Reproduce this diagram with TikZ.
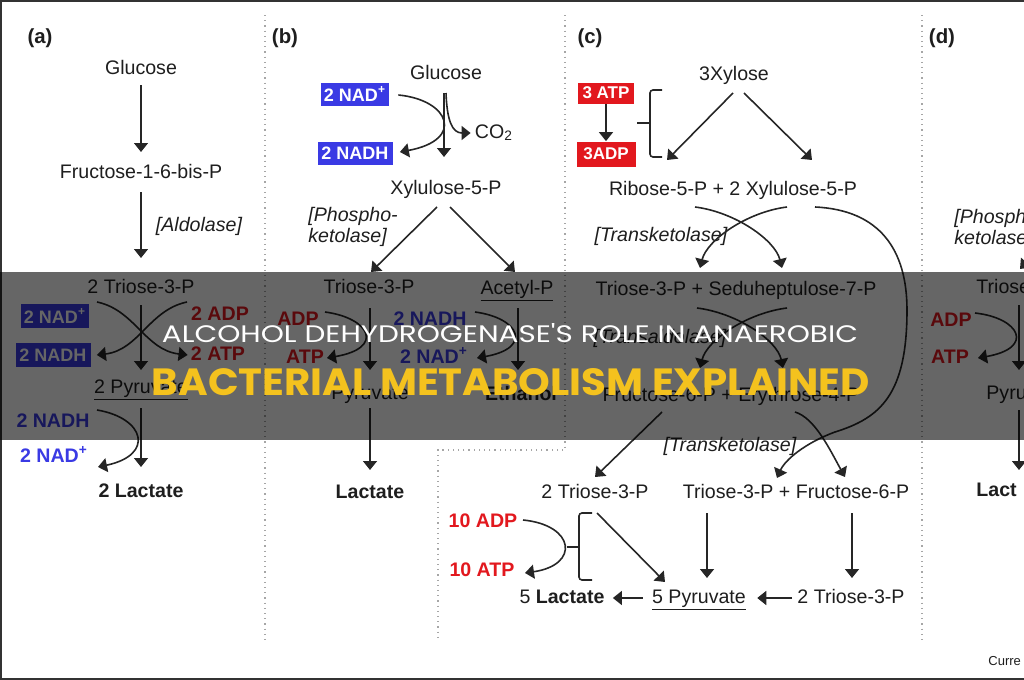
\documentclass[tikz,border=0pt]{standalone}
\usepackage{fontspec}
\setmainfont{Liberation Sans}
\newfontfamily\naslovfont{Poppins}
\usepackage{graphicx}
\usetikzlibrary{arrows.meta,calc}
\definecolor{nadmodra}{RGB}{58,58,228}
\definecolor{atprdeca}{RGB}{226,24,30}
\definecolor{besedilo}{RGB}{30,30,30}
\definecolor{rumena}{RGB}{244,194,30}
\tikzset{
	shema/.style={x=0.5pt, y=-0.5pt, font=\fontsize{9.8}{11.5}\selectfont, text=besedilo,
	              >={Triangle[length=4.5pt,width=7pt]}},
	snov/.style={inner sep=1pt, text height=7pt, text depth=2pt},
	krepko/.style={snov, font=\fontsize{9.8}{11.5}\selectfont\bfseries},
	encim/.style={inner sep=1pt, align=left, font=\fontsize{9.8}{10.5}\selectfont\itshape},
	oznaka/.style={inner sep=1pt, font=\fontsize{10.2}{12}\selectfont\bfseries},
	modro/.style={krepko, text=nadmodra},
	rdece/.style={krepko, text=atprdeca},
	modraskatla/.style={fill=nadmodra, text=white, font=\fontsize{9}{10}\selectfont\bfseries,
	                    inner sep=0pt, minimum width=34pt, minimum height=11.5pt},
	rdecaskatla/.style={fill=atprdeca, text=white, font=\fontsize{8.5}{10}\selectfont\bfseries,
	                    inner sep=0pt, minimum width=28pt, minimum height=10.5pt},
	tok/.style={->, line width=0.8pt, draw=black!85},
	meja/.style={draw=gray!70, dotted, line width=0.6pt},
	oklepaj/.style={line width=0.8pt, draw=black!85, rounded corners=1.5pt},
}

\begin{document}
\begin{tikzpicture}[shema]
\useasboundingbox (0,0) rectangle (1024,680);

\draw[line width=1.2pt, black!80] (0,1) -- (1024,1);
\draw[line width=1.2pt, black!80] (0,679) -- (1024,679);
\draw[line width=1.2pt, black!80] (1,0) -- (1,680);
\draw[meja] (265,15) -- (265,640);
\draw[meja] (565,15) -- (565,450) -- (438,450) -- (438,640);
\draw[meja] (922,15) -- (922,640);

% (a)
\node[oznaka] (oz_a) at (40,38) {(a)};
\node[snov] (glu_a) at (141,69) {Glucose};
\node[snov] (fru_a) at (141,173) {Fructose-1-6-bis-P};
\node[encim] (ald_a) at (199,226) {[Aldolase]};
\node[snov] (tri_a) at (141,288) {2 Triose-3-P};
\node[modraskatla, minimum height=12pt] (nad_a) at (55,316) {2 NAD\textsuperscript{+}};
\node[modraskatla, minimum width=37.5pt, minimum height=12pt] (nadh_a) at (53,355) {2 NADH};
\node[rdece] (adp_a) at (220,315) {2 ADP};
\node[rdece] (atp_a) at (218,355) {2 ATP};
\node[snov] (pyr_a) at (141,388) {\underline{2 Pyruvate}};
\node[modro] (nadh2_a) at (53,422) {2 NADH};
\node[modro] (nad2_a) at (54,457) {2 NAD\textsuperscript{+}};
\node[krepko] (lak_a) at (141,492) {2 Lactate};

\draw[tok] ($(glu_a)+(0,16)$) -- ($(fru_a)+(0,-21)$);
\draw[tok] ($(fru_a)+(0,19)$) -- ($(tri_a)+(0,-30)$);
\draw[tok] ($(tri_a)+(0,17)$) -- ($(pyr_a)+(0,-18)$);
\draw[tok] ($(pyr_a)+(0,20)$) -- ($(lak_a)+(0,-25)$);
\draw[tok] ($(tri_a)+(-44,14)$) .. controls (135,310) and (145,350) .. ($(atp_a.west)+(-1,0)$);
\draw[tok] ($(tri_a)+(46,14)$) .. controls (149,310) and (139,350) .. ($(nadh_a.east)+(6,0)$);
\draw[tok] ($(pyr_a)+(-44,22)$) .. controls (145,418) and (155,455) .. ($(nad2_a)+(44,10)$);

% (b)
\node[oznaka] (oz_b) at (285,38) {(b)};
\node[snov] (glu_b) at (446,74) {Glucose};
\node[modraskatla] (nad_b) at (355,94) {2 NAD\textsuperscript{+}};
\node[modraskatla, minimum width=37.5pt] (nadh_b) at (355,153) {2 NADH};
\node[snov] (co2_b) at (494,133) {CO\textsubscript{2}};
\node[snov] (xyl_b) at (446,189) {Xylulose-5-P};
\node[encim, anchor=west] (fos_b) at (306,227) {[Phospho-\\ketolase]};
\node[snov] (tri_b) at (369,288) {Triose-3-P};
\node[snov] (ace_b) at (517,289) {\underline{Acetyl-P}};
\node[rdece] (adp_b) at (298,320) {ADP};
\node[rdece] (atp_b) at (305,358) {ATP};
\node[modro] (nadh_b2) at (430,320) {2 NADH};
\node[modro] (nad_b2) at (434,358) {2 NAD\textsuperscript{+}};
\node[snov] (pyr_b) at (370,394) {Pyruvate};
\node[krepko] (eta_b) at (521,395) {Ethanol};
\node[krepko] (lak_b) at (370,493) {Lactate};

\draw[tok] ($(glu_b)+(-2,19)$) -- ($(xyl_b)+(-2,-32)$);
\draw[tok] ($(nad_b.east)+(9,1)$) .. controls (450,100) and (465,140) .. ($(nadh_b.east)+(7,-1)$);
\draw[tok] ($(glu_b)+(0,19)$) .. controls (447,120) and (452,133) .. ($(co2_b.west)+(-2,0)$);
\draw[tok] ($(xyl_b)+(-9,18)$) -- ($(tri_b)+(2,-16)$);
\draw[tok] ($(xyl_b)+(4,18)$) -- ($(ace_b)+(-2,-17)$);
\draw[tok] ($(tri_b)+(1,20)$) -- ($(pyr_b)+(0,-24)$);
\draw[tok] ($(pyr_b)+(0,14)$) -- ($(lak_b)+(0,-23)$);
\draw[tok] ($(ace_b)+(1,19)$) -- ($(eta_b)+(-3,-25)$);
\draw[tok] ($(adp_b)+(27,-8)$) .. controls (370,318) and (385,348) .. ($(atp_b)+(22,0)$);
\draw[tok] ($(nadh_b2)+(45,-8)$) .. controls (520,318) and (533,348) .. ($(nad_b2)+(43,0)$);

% (c)
\node[oznaka] (oz_c) at (590,38) {(c)};
\node[snov] (xyl_c) at (734,75) {3Xylose};
\node[rdecaskatla] (atp_c) at (606,93) {3 ATP};
\node[rdecaskatla, minimum width=29.5pt, minimum height=12.5pt] (adp_c) at (606,154) {3ADP};
\node[snov] (rib_c) at (733,190) {Ribose-5-P + 2 Xylulose-5-P};
\node[encim] (tk1_c) at (661,236) {[Transketolase]};
\node[snov] (sed_c) at (736,290) {Triose-3-P + Seduheptulose-7-P};
\node[encim] (ta_c) at (660,338) {[Transaldolase]};
\node[snov] (ery_c) at (731,396) {Fructose-6-P + Erythrose-4-P};
\node[encim] (tk2_c) at (730,446) {[Transketolase]};
\node[snov] (tri2_c) at (595,493) {2 Triose-3-P};
\node[snov] (trf_c) at (796,493) {Triose-3-P + Fructose-6-P};
\node[rdece] (adp10_c) at (483,522) {10 ADP};
\node[rdece] (atp10_c) at (482,571) {10 ATP};
\node[snov] (lak_c) at (562,598) {5 \textbf{Lactate}};
\node[snov] (pyr_c) at (699,598) {\underline{5 Pyruvate}};
\node[snov] (tri3_c) at (851,598) {2 Triose-3-P};

\draw[tok] (atp_c) -- (adp_c);
\draw[oklepaj] (662,90) -- (650,90) -- (650,157) -- (662,157) (650,123) -- (637,123);
\draw[tok] ($(xyl_c)+(-1,18)$) -- ($(rib_c)+(-66,-30)$);
\draw[tok] ($(xyl_c)+(10,18)$) -- ($(rib_c)+(79,-30)$);
\draw[tok] ($(rib_c)+(-38,17)$) .. controls (735,212) and (775,240) .. ($(sed_c)+(46,-22)$);
\draw[tok] ($(rib_c)+(54,17)$) .. controls (747,212) and (707,240) .. ($(sed_c)+(-36,-22)$);
\draw[tok] ($(rib_c)+(82,17)$) .. controls (880,210) and (907,250) .. (907,310)
    .. controls (907,395) and (880,418) .. (835,432)
    .. controls (805,443) and (785,460) .. ($(trf_c)+(-19,-15)$);
\draw[tok] ($(sed_c)+(-39,18)$) .. controls (737,313) and (777,340) .. ($(ery_c)+(52,-28)$);
\draw[tok] ($(sed_c)+(51,18)$) .. controls (747,313) and (707,340) .. ($(ery_c)+(-31,-28)$);
\draw[tok] ($(ery_c)+(64,16)$) .. controls (815,418) and (830,450) .. ($(trf_c)+(49,-16)$);
\draw[tok] ($(ery_c)+(-69,16)$) -- ($(tri2_c)+(0,-16)$);
\draw[tok] ($(tri2_c)+(2,20)$) -- ($(pyr_c)+(-34,-16)$);
\draw[tok] ($(trf_c)+(-89,20)$) -- ($(pyr_c)+(8,-20)$);
\draw[tok] ($(trf_c)+(56,20)$) -- ($(tri3_c)+(1,-20)$);
\draw[tok] ($(tri3_c.west)+(-3,0)$) -- ($(pyr_c.east)+(9,0)$);
\draw[tok] ($(pyr_c.west)+(-7,0)$) -- ($(lak_c.east)+(6,0)$);
\draw[oklepaj] (592,513) -- (579,513) -- (579,580) -- (592,580) (579,547) -- (567,547);
\draw[tok] ($(adp10_c)+(40,-2)$) .. controls (575,525) and (580,565) .. ($(atp10_c)+(43,2)$);

% (d)
\begin{scope}
\clip (923,0) rectangle (1024,680);
\node[oznaka] (oz_d) at (942,38) {(d)};
\node[encim, anchor=west] (fos_d) at (952,227) {[Phosph\\ketolase};
\node[snov, anchor=west] (tri_d) at (974,288) {Triose};
\node[rdece] (adp_d) at (951,321) {ADP};
\node[rdece] (atp_d) at (950,358) {ATP};
\node[snov, anchor=west] (pyr_d) at (984,394) {Pyru};
\node[krepko, anchor=west] (lak_d) at (974,491) {Lact};
\node[anchor=west, inner sep=1pt, font=\fontsize{6.5}{7}\selectfont] (izvor) at (986,661) {Curre};
\draw[tok] ($(tri_d.west)+(80,-55)$) -- ($(tri_d.west)+(46,-19)$);
\draw[tok] ($(tri_d.west)+(45,17)$) -- ($(pyr_d.west)+(35,-24)$);
\draw[tok] ($(pyr_d.west)+(35,16)$) -- ($(lak_d.west)+(45,-21)$);
\draw[tok] ($(adp_d)+(24,-8)$) .. controls (1020,318) and (1035,348) .. ($(atp_d)+(28,0)$);
\end{scope}

\fill[black, opacity=0.6] (0,272) rectangle (1024,440);
\node[text=white, inner sep=0pt] (naslov1) at (510,333)
    {\resizebox{348pt}{9.5pt}{\naslovfont ALCOHOL DEHYDROGENASE'S ROLE IN ANAEROBIC}};
\node[text=rumena, inner sep=0pt] (naslov2) at (511,382)
    {\resizebox{359pt}{13.5pt}{\naslovfont\bfseries BACTERIAL METABOLISM EXPLAINED}};

\end{tikzpicture}
\end{document}
